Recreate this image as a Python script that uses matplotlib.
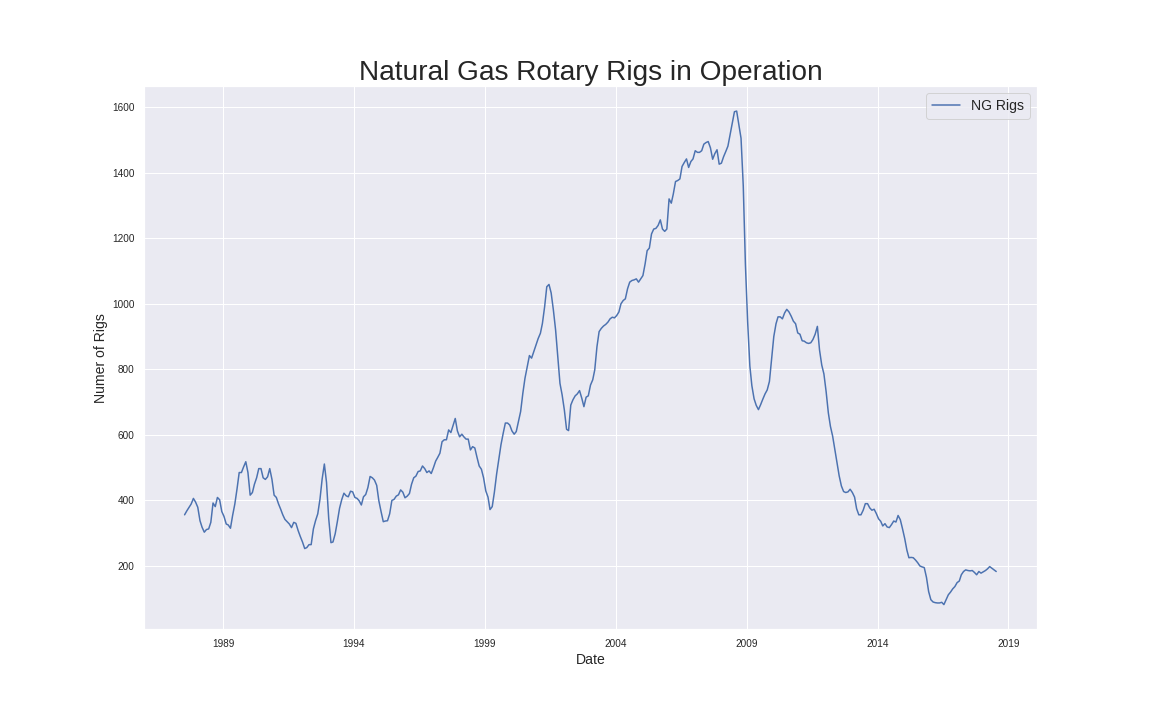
import matplotlib
matplotlib.use("Agg")
import matplotlib.pyplot as plt
import matplotlib.dates as mdates
import seaborn as sns
import pandas as pd

# monthly natural gas rig counts, Jul 1987 .. Jul 2018 (one row = Jul..Jun)
rigs = [
    356, 368, 379, 389, 406, 395, 379, 338, 318, 303, 311, 313,
    333, 392, 381, 409, 402, 366, 351, 328, 325, 315, 354, 389,
    434, 485, 485, 502, 518, 485, 416, 424, 449, 469, 497, 497,
    469, 464, 472, 497, 464, 416, 409, 389, 374, 356, 342, 335,
    328, 317, 333, 330, 308, 290, 273, 253, 256, 265, 265, 313,
    338, 359, 404, 465, 511, 455, 344, 271, 273, 298, 335, 376,
    402, 422, 414, 411, 428, 426, 409, 406, 399, 386, 411, 418,
    439, 473, 469, 462, 446, 399, 366, 335, 337, 338, 359, 400,
    403, 413, 417, 432, 425, 408, 413, 421, 449, 469, 474, 488,
    490, 505, 497, 485, 490, 482, 500, 520, 531, 544, 579, 585,
    585, 615, 607, 628, 650, 612, 594, 602, 594, 587, 587, 554,
    564, 560, 531, 505, 495, 469, 429, 410, 372, 381, 425, 480,
    524, 570, 605, 636, 636, 630, 612, 602, 610, 641, 671, 727,
    773, 808, 842, 834, 854, 874, 894, 910, 940, 991, 1052, 1059,
    1033, 981, 920, 839, 757, 722, 676, 617, 613, 691, 707, 719,
    725, 735, 712, 686, 715, 719, 752, 768, 798, 869, 915, 925,
    932, 937, 944, 954, 959, 957, 964, 975, 1000, 1010, 1015, 1046,
    1066, 1071, 1073, 1076, 1066, 1076, 1086, 1122, 1162, 1170, 1213, 1228,
    1230, 1239, 1256, 1228, 1221, 1228, 1320, 1307, 1335, 1373, 1376, 1381,
    1419, 1431, 1442, 1416, 1434, 1442, 1467, 1462, 1462, 1467, 1487, 1492,
    1495, 1476, 1441, 1458, 1470, 1426, 1429, 1449, 1464, 1481, 1516, 1551,
    1586, 1588, 1545, 1505, 1360, 1120, 946, 810, 750, 710, 690, 677,
    692, 709, 725, 737, 763, 830, 900, 939, 960, 960, 954, 972,
    983, 975, 962, 947, 939, 911, 907, 887, 886, 881, 879, 881,
    891, 907, 931, 859, 813, 786, 732, 667, 626, 596, 556, 515,
    475, 444, 427, 424, 426, 434, 424, 410, 375, 356, 356, 370,
    390, 390, 377, 370, 373, 360, 344, 336, 322, 329, 319, 317,
    326, 337, 334, 354, 341, 314, 284, 248, 225, 226, 225, 218,
    210, 200, 197, 195, 165, 122, 97, 90, 88, 87, 87, 89,
    82, 97, 112, 120, 130, 137, 149, 154, 173, 183, 188, 186,
    185, 186, 180, 173, 183, 178, 182, 186, 191, 198, 193, 188,
    183,
]
dates = pd.date_range("1987-07-01", periods=len(rigs), freq="MS") + pd.Timedelta(days=14)
tick_years = [1989, 1994, 1999, 2004, 2009, 2014, 2019]

sns.set()
plt.rcParams["font.family"] = ["Liberation Sans", "DejaVu Sans"]

fig, ax = plt.subplots(figsize=(16, 10), dpi=72)
fig.subplots_adjust(left=0.125, right=0.9, top=0.88, bottom=0.126)

ax.plot(dates, rigs, color="#4c72b0", lw=1.5, label="NG Rigs")

ax.set_xticks([pd.Timestamp(f"{y}-01-01") for y in tick_years])
ax.xaxis.set_major_formatter(mdates.DateFormatter("%Y"))
ax.tick_params(labelsize=10)

ax.set_title("Natural Gas Rotary Rigs in Operation", fontsize=28)
ax.set_xlabel("Date", fontsize=14)
ax.set_ylabel("Numer of Rigs", fontsize=14)
ax.legend(loc="upper right", fontsize=14)

plt.savefig("out.png", dpi=72)
